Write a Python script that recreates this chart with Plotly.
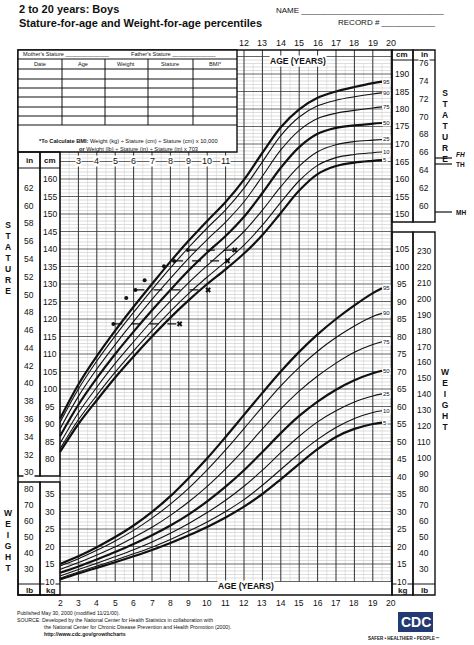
import plotly.graph_objects as go

# CDC boys 2-20 growth chart
ages = [2, 3, 4, 5, 6, 7, 8, 9, 10, 11, 12, 13, 14, 15, 16, 17, 18, 19, 19.5]
pct_labels = ["5", "10", "25", "50", "75", "90", "95"]

stature_cm = {
    "5":  [82.0, 90.0, 96.8, 103.3, 109.3, 115.0, 120.4, 125.4, 130.0, 134.2, 138.7, 144.0, 150.3, 156.7, 161.4, 163.7, 164.7, 165.2, 165.4],
    "10": [82.9, 91.2, 98.2, 104.8, 110.9, 116.7, 122.2, 127.3, 132.0, 136.4, 141.1, 146.8, 153.3, 159.5, 163.9, 166.1, 167.0, 167.5, 167.7],
    "25": [84.4, 93.2, 100.5, 107.3, 113.5, 119.5, 125.1, 130.4, 135.3, 140.0, 145.0, 151.1, 157.8, 163.7, 167.8, 169.8, 170.7, 171.1, 171.3],
    "50": [86.5, 95.5, 103.1, 110.0, 116.4, 122.5, 128.3, 133.9, 139.0, 143.7, 149.2, 156.0, 163.2, 169.1, 172.9, 174.6, 175.3, 175.8, 176.0],
    "75": [88.6, 97.9, 105.7, 112.7, 119.3, 125.6, 131.6, 137.4, 142.7, 147.7, 153.5, 160.8, 168.3, 173.9, 177.3, 178.8, 179.6, 180.3, 180.6],
    "90": [90.4, 100.0, 108.0, 115.2, 121.9, 128.4, 134.6, 140.5, 146.0, 151.2, 157.4, 164.9, 172.4, 177.7, 180.9, 182.5, 183.5, 184.3, 184.6],
    "95": [91.5, 101.3, 109.4, 116.7, 123.5, 130.0, 136.4, 142.4, 148.0, 153.4, 159.8, 167.5, 174.8, 179.9, 183.2, 185.0, 186.3, 187.4, 187.8],
}
weight_kg = {
    "5":  [10.6, 12.3, 13.9, 15.5, 17.2, 19.0, 21.0, 23.2, 25.6, 28.3, 31.4, 35.0, 39.2, 43.6, 47.8, 51.3, 53.6, 55.0, 55.4],
    "10": [10.9, 12.7, 14.4, 16.1, 17.9, 19.8, 22.0, 24.4, 27.0, 30.0, 33.4, 37.5, 42.0, 46.5, 50.6, 54.0, 56.6, 58.3, 58.8],
    "25": [11.6, 13.4, 15.2, 17.1, 19.1, 21.3, 23.8, 26.6, 29.7, 33.2, 37.2, 41.8, 46.8, 51.5, 55.6, 58.8, 61.3, 63.0, 63.6],
    "50": [12.5, 14.3, 16.3, 18.4, 20.7, 23.2, 26.0, 29.2, 32.9, 37.1, 41.8, 47.0, 52.4, 57.3, 61.4, 64.8, 67.5, 69.5, 70.2],
    "75": [13.4, 15.4, 17.6, 19.9, 22.6, 25.5, 28.9, 32.8, 37.2, 42.2, 47.7, 53.6, 59.3, 64.4, 68.7, 72.4, 75.5, 77.7, 78.5],
    "90": [14.4, 16.5, 18.9, 21.6, 24.6, 28.1, 32.1, 36.7, 41.9, 47.6, 53.7, 59.9, 65.9, 71.2, 75.8, 79.7, 83.0, 85.7, 86.6],
    "95": [15.0, 17.2, 19.8, 22.7, 26.0, 29.9, 34.4, 39.6, 45.2, 51.3, 57.6, 63.9, 70.0, 75.6, 80.6, 85.0, 88.9, 92.4, 93.8],
}
thick = {"5", "50", "95"}

# plotted measurements: (age, stature) dots and the matching x marks
dot_age = [4.9, 5.6, 6.1, 6.6, 7.65, 8.2, 8.95]
dot_cm = [118.6, 126.0, 128.3, 131.1, 135.1, 136.6, 139.7]
cross_age = [8.5, 10.05, 11.1, 11.5]
cross_cm = [118.6, 128.3, 136.6, 139.7]
pair_dot = [0, 2, 5, 6]

KG_OFFSET = 35  # weight kg is drawn on the same grid, shifted by 35 units

# pixel helpers for the printed form (page is 474 x 645)
PPY = 18.4
PPU = 3.5
def X(px):
    return 2 + (px - 60) / PPY
def Y(py):
    return 160 - (py - 179) / PPU
def PX(px):
    return (px - 18) / 417
def PY(py):
    return (595 - py) / 545
def U2PY(u):
    return 179 + (160 - u) * PPU

INK = "#111"
fig = go.Figure()

def lines(segs, color, width, dash=None):
    xs, ys = [], []
    for (x0, y0, x1, y1) in segs:
        xs += [x0, x1, None]
        ys += [y0, y1, None]
    fig.add_trace(go.Scatter(x=xs, y=ys, mode="lines", hoverinfo="skip", showlegend=False,
                             line=dict(color=color, width=width, dash=dash)))

# grid
lines([(2, u, 20, u) for u in range(45, 196) if u % 5], "#c8c8c8", 0.6)
lines([(a + 0.5, 45, a + 0.5, 193) for a in range(2, 20)], "#d0d0d0", 0.6)
lines([(2, u, 20, u) for u in range(45, 196, 5)], "#555", 0.9)
lines([(a, 45, a, Y(50)) for a in range(2, 21)], "#333", 1.0)

# curves
for p in pct_labels:
    w = 2.2 if p in thick else 1.1
    fig.add_trace(go.Scatter(x=ages, y=stature_cm[p], mode="lines", hoverinfo="skip", showlegend=False,
                             line=dict(color=INK, width=w, shape="spline")))
    fig.add_trace(go.Scatter(x=ages, y=[v + KG_OFFSET for v in weight_kg[p]], mode="lines",
                             hoverinfo="skip", showlegend=False,
                             line=dict(color=INK, width=w, shape="spline")))
    for vals in (stature_cm[p], [v + KG_OFFSET for v in weight_kg[p]]):
        fig.add_annotation(x=19.5, y=vals[-1], text=p, showarrow=False, xanchor="left",
                           font=dict(size=6, color=INK), bgcolor="white", borderpad=0)

# measurements
for i, j in enumerate(pair_dot):
    lines([(dot_age[j], dot_cm[j], cross_age[i], cross_cm[i])], INK, 1.2, "dash")
fig.add_trace(go.Scatter(x=dot_age, y=dot_cm, mode="markers", hoverinfo="skip", showlegend=False,
                         marker=dict(color=INK, size=4)))
fig.add_trace(go.Scatter(x=cross_age, y=cross_cm, mode="markers", hoverinfo="skip", showlegend=False,
                         marker=dict(color=INK, size=5, symbol="x")))

shapes = []
def rect(px0, py0, px1, py1, fill=None, w=1.4, line=INK):
    shapes.append(dict(type="rect", xref="paper", yref="paper", x0=PX(px0), x1=PX(px1),
                       y0=PY(py0), y1=PY(py1), line=dict(color=line, width=w),
                       fillcolor=fill or "rgba(0,0,0,0)", layer="above"))
def seg(px0, py0, px1, py1, w=1.0):
    shapes.append(dict(type="line", xref="paper", yref="paper", x0=PX(px0), x1=PX(px1),
                       y0=PY(py0), y1=PY(py1), line=dict(color=INK, width=w), layer="above"))

# frames
rect(18, 50, 392, 595, w=1.6)
rect(18, 50, 237, 152, fill="white")
rect(18, 152, 40, 476); rect(40, 152, 60, 476)
rect(18, 482, 40, 595); rect(40, 482, 60, 595)
rect(392, 50, 413, 222); rect(413, 50, 435, 222)
rect(392, 232, 413, 595); rect(413, 232, 435, 595)
for py in (59, 69, 79, 88, 97, 107, 116, 125):
    seg(18, py, 237, py)
for px in (62, 105, 148, 193):
    seg(px, 59, px, 125)
for px0, px1 in ((18, 40), (40, 60)):
    seg(px0, 168, px1, 168)
    seg(px0, 584, px1, 584)
seg(392, 60, 435, 60); seg(413, 584, 435, 584); seg(392, 584, 413, 584)
seg(435, 158, 452, 158, 1.2); seg(435, 164, 452, 164, 1.2); seg(435, 212, 452, 212, 1.2)
# CDC logo block
rect(398, 612, 433, 632, fill="#243a73", w=0, line="#243a73")

fig.update_layout(shapes=shapes)

def txt(px, py, s, size=8, anchor="center", bold=False, bg=None, color=INK):
    fig.add_annotation(xref="paper", yref="paper", x=PX(px), y=PY(py),
                       text=f"<b>{s}</b>" if bold else s, showarrow=False,
                       xanchor=anchor, yanchor="middle", font=dict(size=size, color=color),
                       bgcolor=bg, borderpad=0)

# header
txt(18, 9, "2 to 20 years: Boys", 11, "left", True)
txt(18, 23, "Stature-for-age and Weight-for-age percentiles", 11, "left", True)
txt(275, 10, "NAME ________________________________", 8, "left")
txt(337, 23, "RECORD # ____________", 8, "left")

# table text
txt(22, 54, "Mother's Stature ______________", 5.6, "left")
txt(130, 54, "Father's Stature ______________", 5.6, "left")
for px, s in ((40, "Date"), (83, "Age"), (126, "Weight"), (170, "Stature"), (215, "BMI*")):
    txt(px, 64, s, 5.6)
txt(128, 141, "<b>*To Calculate BMI:</b> Weight (kg) ÷ Stature (cm) ÷ Stature (cm) x 10,000", 5.7)
txt(138, 149, "<b>or</b> Weight (lb) ÷ Stature (in) ÷ Stature (in) x 703", 5.7)

# age tick labels
for a in range(3, 12):
    txt(60 + (a - 2) * PPY, 161, str(a), 9, bg="white")
for a in range(12, 21):
    txt(60 + (a - 2) * PPY, 43, str(a), 9)
for a in range(2, 21):
    txt(60 + (a - 2) * PPY, 603, str(a), 8.5)
txt(60 + 12.95 * PPY, 61, "<b>AGE (YEARS)</b>", 8.5, bg="white")
txt(60 + 10.1 * PPY, 586, "<b>AGE (YEARS)</b>", 8.5, bg="white")
txt(29, 160, "<b>in</b>", 8); txt(50, 160, "<b>cm</b>", 8)
txt(402, 54, "<b>cm</b>", 8); txt(424, 54, "<b>in</b>", 8)
txt(29, 590, "<b>lb</b>", 8); txt(50, 590, "<b>kg</b>", 8)
txt(402, 590, "<b>kg</b>", 8); txt(424, 590, "<b>lb</b>", 8)

def ulab(pxc, u, s):
    txt(pxc, U2PY(u), s, 8.5, bg="white")

for cm in range(80, 161, 5):
    ulab(50, cm, str(cm))
for inch in range(30, 63, 2):
    if inch * 2.54 > 75:
        ulab(29, inch * 2.54, str(inch))
for kg in range(10, 36, 5):
    ulab(50, kg + KG_OFFSET, str(kg))
for lb in range(30, 81, 10):
    ulab(29, lb * 0.4536 + KG_OFFSET, str(lb))
for cm in range(150, 191, 5):
    ulab(402, cm, str(cm))
for inch in range(60, 77, 2):
    ulab(424, inch * 2.54, str(inch))
for kg in range(10, 106, 5):
    ulab(402, kg + KG_OFFSET, str(kg))
for lb in range(30, 231, 10):
    ulab(424, lb * 0.4536 + KG_OFFSET, str(lb))

# side words
txt(8, 258, "<br>".join("STATURE"), 8.5, bold=True)
txt(8, 540, "<br>".join("WEIGHT"), 8.5, bold=True)
txt(445, 126, "<br>".join("STATURE"), 8.5, bold=True)
txt(445, 400, "<br>".join("WEIGHT"), 8.5, bold=True)
txt(455, 155, "<i>FH</i>", 6.5, "left", bold=True)
txt(455, 165, "TH", 6.5, "left", bold=True)
txt(455, 212, "MH", 6.5, "left", bold=True)

# footer
txt(16, 613, "Published May 30, 2000 (modified 11/21/00).", 5.2, "left")
txt(16, 620, "SOURCE: Developed by the National Center for Health Statistics in collaboration with", 5.2, "left")
txt(43, 627, "the National Center for Chronic Disease Prevention and Health Promotion (2000).", 5.2, "left")
txt(43, 634, "<b>http://www.cdc.gov/growthcharts</b>", 5.2, "left")
txt(415.5, 622, "CDC", 14, bold=True, color="white")
txt(404, 638, "SAFER • HEALTHIER • PEOPLE™", 4.5, bold=True)

fig.update_layout(
    width=474, height=645, paper_bgcolor="white", plot_bgcolor="white",
    margin=dict(l=18, r=39, t=50, b=50),
    font=dict(family="Liberation Sans, Arial, sans-serif"),
    xaxis=dict(range=[X(18), X(435)], visible=False, fixedrange=True),
    yaxis=dict(range=[Y(595), Y(50)], visible=False, fixedrange=True),
)
fig.write_html("out.html", config={"displayModeBar": False},
               post_script="document.body.style.margin='0';")
